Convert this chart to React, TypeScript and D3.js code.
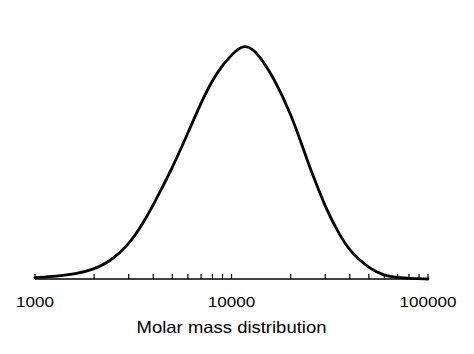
import React, { useMemo } from "react"
import * as d3 from "d3"

// ── Data ──────────────────────────────────────────────────────────────────────

const molarMass = [
  1000, 1300, 1600, 2000, 2400, 3000, 3550, 4000, 5000, 6000, 7000, 8000, 9000,
  10000, 10850, 11700, 12700, 14000, 16300, 20000, 23200, 25000, 28200, 30000,
  34300, 40000, 50000, 60000, 70000, 80000, 100000,
]
const fraction = [
  0.006, 0.012, 0.021, 0.042, 0.074, 0.146, 0.24, 0.318, 0.477, 0.628, 0.759,
  0.856, 0.92, 0.963, 0.992, 1.003, 0.992, 0.955, 0.87, 0.714, 0.56, 0.48, 0.37,
  0.312, 0.211, 0.117, 0.046, 0.014, 0.006, 0.002, 0,
]
const labelTicks = [1000, 10000, 100000]
const xTitle = "Molar mass distribution"

// ── Chart ─────────────────────────────────────────────────────────────────────

const W = 474
const H = 354
const FONT = "'Liberation Sans', Arial, Helvetica, sans-serif"

export default function App() {
  const x = useMemo(
    () => d3.scaleLog().domain([1000, 100000]).range([35, 428]),
    [],
  )
  const y = useMemo(() => d3.scaleLinear().domain([0, 1]).range([279, 46.5]), [])

  const path = useMemo(() => {
    const line = d3
      .line<number>()
      .x((_, i) => x(molarMass[i]))
      .y(d => y(d))
      .curve(d3.curveBasis)
    return line(fraction) || ""
  }, [x, y])

  const ticks = x.ticks()
  const [x0, x1] = x.range()
  const axisY = y(0)

  return (
    <svg
      width={W}
      height={H}
      style={{ position: "fixed", left: 0, top: 0, background: "#fff" }}
    >
      <rect width={W} height={H} fill="#fff" />

      {/* axis */}
      <line x1={x0} x2={x1} y1={axisY} y2={axisY} stroke="#000" strokeWidth={1.3} />
      {ticks.map(t => (
        <line
          key={t}
          x1={x(t)}
          x2={x(t)}
          y1={axisY}
          y2={axisY - 5}
          stroke="#000"
          strokeWidth={1.2}
        />
      ))}

      {/* tick labels */}
      {labelTicks.map(t => (
        <g key={`l-${t}`} transform={`translate(${x(t)},307) scale(1.1,1)`}>
          <text textAnchor="middle" fontFamily={FONT} fontSize={15.5} fill="#000">
            {t}
          </text>
        </g>
      ))}

      {/* title */}
      <g transform={`translate(${(x0 + x1) / 2},333) scale(1.12,1)`}>
        <text textAnchor="middle" fontFamily={FONT} fontSize={16.5} fill="#000">
          {xTitle}
        </text>
      </g>

      {/* curve */}
      <path
        d={path}
        fill="none"
        stroke="#000"
        strokeWidth={2.8}
        strokeLinejoin="round"
        strokeLinecap="round"
      />
    </svg>
  )
}
